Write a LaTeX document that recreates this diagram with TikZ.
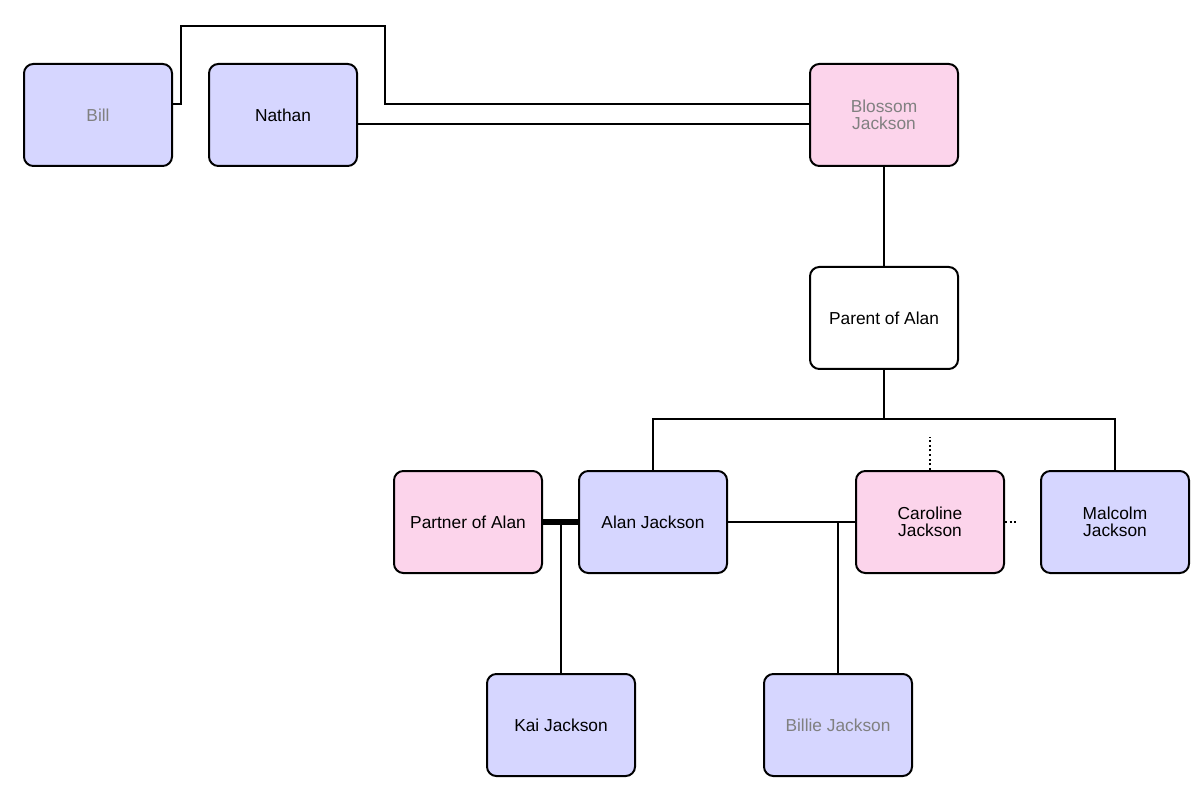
\documentclass[tikz,border=0pt]{standalone}
\usepackage{fontspec}
\setmainfont{Liberation Sans}
\begin{document}
\begin{tikzpicture}[x=0.75pt,y=-0.75pt,
 box/.style={draw,line width=1.5pt,rounded corners=7pt,minimum width=148*0.75pt,minimum height=102*0.75pt,align=center,font=\fontsize{13}{13}\selectfont,inner sep=0pt},
 m/.style={box,fill=blue!16},
 f/.style={box,fill=magenta!17},
 u/.style={box,fill=white},
 gr/.style={text=black!50},
 ln/.style={line width=1.5pt},
 dt/.style={line width=1.5pt,dotted}]
\useasboundingbox (0,0) rectangle (1196,805);
\node[m,gr] (bill) at (98,115) {Bill};
\node[m] (nathan) at (283,115) {Nathan};
\node[f,gr] (blossom) at (884,115) {Blossom\\Jackson};
\node[u] (parent) at (884,318) {Parent of Alan};
\node[f] (partner) at (468,522) {Partner of Alan};
\node[m] (alan) at (653,522) {Alan Jackson};
\node[f] (caroline) at (930,522) {Caroline\\Jackson};
\node[m] (malcolm) at (1115,522) {Malcolm\\Jackson};
\node[m] (kai) at (561,725) {Kai Jackson};
\node[m,gr] (billie) at (838,725) {Billie Jackson};
\coordinate (u1) at (181,104);
\draw[ln] (bill.east|-u1) -- (u1) |- (385,26) |- (blossom.west|-0,104);
\draw[ln] (nathan.east|-0,124) -- (blossom.west|-0,124);
\draw[ln] (blossom) -- (parent);
\coordinate (sib) at (884,419);
\draw[ln] (parent.south) -- (sib);
\draw[ln] (alan.north) |- (sib) -| (malcolm.north);
\draw[dt] (caroline.north) -- ++(0,-33);
\draw[dt] (caroline.east) -- ++(14,0);
\draw[line width=4pt] (partner.east) -- (alan.west);
\coordinate (k) at (561,521);
\draw[ln] (k) -- (kai.north);
\draw[ln] (alan.east) -- (caroline.west);
\coordinate (b) at (838,521);
\draw[ln] (b) -- (billie.north);
\end{tikzpicture}
\end{document}
